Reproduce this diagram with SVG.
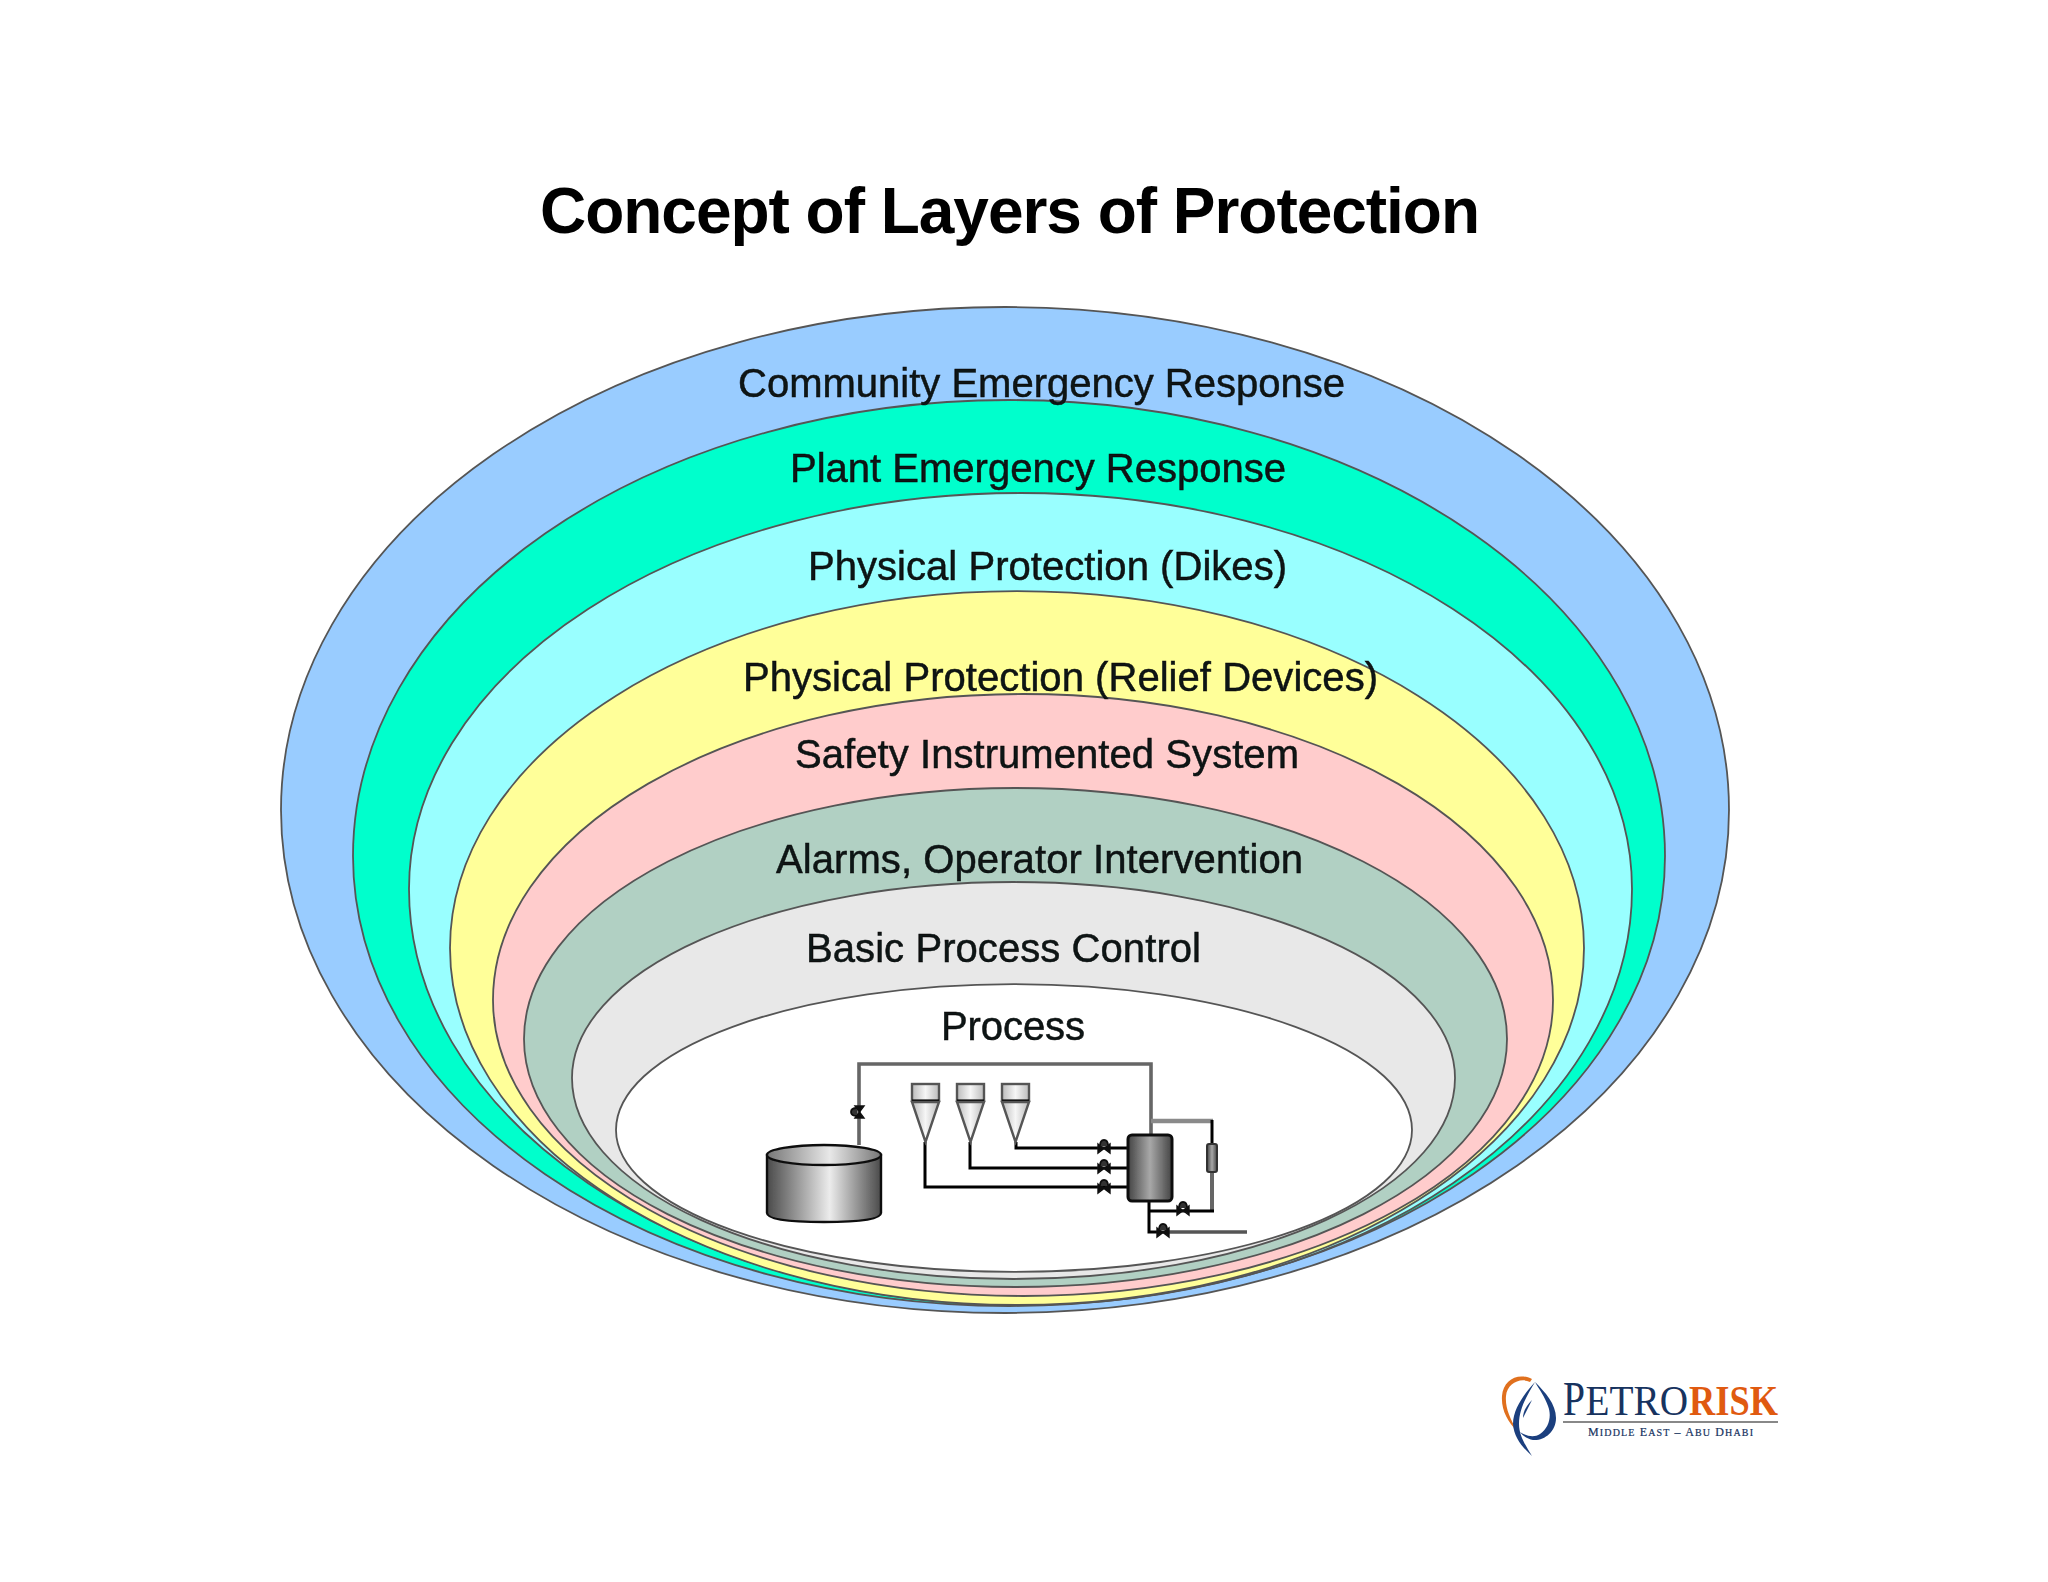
<svg xmlns="http://www.w3.org/2000/svg" width="2048" height="1582" viewBox="0 0 2048 1582">
<style>
.layer{stroke:#555;stroke-width:1.8}
.lbl{font-family:"Liberation Sans",Arial,sans-serif;font-size:40px;fill:#0d1212;stroke:#0d1212;stroke-width:.5}
.title{font-family:"Liberation Sans",Arial,sans-serif;font-weight:bold;font-size:64px;fill:#000}
.pipe{fill:none;stroke:#000;stroke-width:3}
.pipeg{fill:none;stroke:#666;stroke-width:3.6}
.eq{stroke:#111;stroke-width:2.4}
.lg{font-family:"Liberation Serif","Times New Roman",serif;fill:#17335f}
</style>
<defs>
<filter id="soft" x="0" y="0" width="2048" height="1582" filterUnits="userSpaceOnUse"><feGaussianBlur stdDeviation="0.7"/></filter>
<linearGradient id="metal"><stop offset="0" stop-color="#4a4a4a"/><stop offset=".55" stop-color="#ececec"/><stop offset="1" stop-color="#4a4a4a"/></linearGradient>
<linearGradient id="rim"><stop offset="0" stop-color="#777"/><stop offset=".55" stop-color="#e8e8e8"/><stop offset="1" stop-color="#777"/></linearGradient>
<linearGradient id="vess"><stop offset="0" stop-color="#444"/><stop offset=".5" stop-color="#a8a8a8"/><stop offset="1" stop-color="#444"/></linearGradient>
<linearGradient id="cone"><stop offset="0" stop-color="#bbb"/><stop offset=".5" stop-color="#f6f6f6"/><stop offset="1" stop-color="#bbb"/></linearGradient>
<symbol id="valve" overflow="visible"><path d="M-6,-3 L6,6 V-3 L-6,6 Z" fill="#111" stroke="#111" stroke-width="1.400"/><path d="M-4,-1 Q-4,-7 0,-7 Q4,-7 4,-1" fill="#333" stroke="#111" stroke-width="1.800"/></symbol>
</defs>
<rect width="2048" height="1582" fill="#fff"/>
<text class="title" x="540" y="233" textLength="940">Concept of Layers of Protection</text>
<g filter="url(#soft)">
<g id="layers">
<g id="layer-community"><path class="layer" fill="#99ccff" d="M281,810 A724,503 0 0 1 1729,810 A724,503 0 0 1 281,810 Z"/></g>
<g id="layer-plant"><path class="layer" fill="#00ffcc" d="M353,856 A656,456 0 0 1 1665,856 A656,450 0 0 1 353,856 Z"/></g>
<g id="layer-dikes"><path class="layer" fill="#99ffff" d="M409,889 A611.5,396 0 0 1 1632,889 A611.5,416 0 0 1 409,889 Z"/></g>
<g id="layer-relief"><path class="layer" fill="#ffff99" d="M450,948 A567,357 0 0 1 1584,948 A567,357 0 0 1 450,948 Z"/></g>
<g id="layer-sis"><path class="layer" fill="#ffcccc" d="M493,1000 A530,306 0 0 1 1553,1000 A530,296 0 0 1 493,1000 Z"/></g>
<g id="layer-alarms"><path class="layer" fill="#b1d0c3" d="M524,1039 A491.500,251 0 0 1 1507,1039 A491.500,248 0 0 1 524,1039 Z"/></g>
<g id="layer-bpc"><path class="layer" fill="#e8e8e8" d="M572,1078 A441.500,196 0 0 1 1455,1078 A441.500,201 0 0 1 572,1078 Z"/></g>
<g id="layer-process"><path class="layer" fill="#fff" d="M616,1130 A398,146 0 0 1 1412,1130 A398,142 0 0 1 616,1130 Z"/></g>
</g>
<g id="labels">
<text class="lbl" x="738" y="397" textLength="607">Community Emergency Response</text>
<text class="lbl" x="790" y="482" textLength="496">Plant Emergency Response</text>
<text class="lbl" x="808" y="580" textLength="479">Physical Protection (Dikes)</text>
<text class="lbl" x="743" y="691" textLength="635">Physical Protection (Relief Devices)</text>
<text class="lbl" x="795" y="768" textLength="504">Safety Instrumented System</text>
<text class="lbl" x="776" y="873" textLength="527">Alarms, Operator Intervention</text>
<text class="lbl" x="806" y="962" textLength="395">Basic Process Control</text>
<text class="lbl" x="941" y="1040" textLength="144">Process</text>
</g>
<g id="connectors">
<path class="pipeg" d="M859,1145 V1064 H1151 V1135"/>
<path d="M1151,1121 H1213" fill="none" stroke="#8a8a8a" stroke-width="4.500"/>
<path class="pipe" d="M1212,1120 V1145"/>
<path class="pipeg" d="M1212,1172 V1211" style="stroke-width:4"/>
<path class="pipe" d="M925,1142 V1187 H1127 M970,1142 V1168 H1127 M1016,1142 V1148 H1127"/>
<path class="pipe" d="M1149,1201 V1232 H1166 M1149,1211 H1214"/>
<path class="pipeg" d="M1166,1232 H1247" style="stroke:#555"/>
</g>
<g id="process-equipment">
<g id="tank">
<path class="eq" fill="url(#metal)" d="M767,1155 V1213 Q767,1222 824,1222 Q881,1222 881,1213 V1155 Z"/>
<ellipse class="eq" cx="824" cy="1155" rx="57" ry="10" fill="url(#rim)"/>
</g>
<g id="hopper-1"><rect class="eq" x="912" y="1084" width="27" height="17" fill="url(#cone)" style="stroke:#555"/><path d="M912,1101 H939" stroke="#000" stroke-width="3"/><path class="eq" d="M912,1102 H939 L925.500,1142 Z" fill="url(#cone)" style="stroke:#555"/></g>
<g id="hopper-2"><rect class="eq" x="957" y="1084" width="27" height="17" fill="url(#cone)" style="stroke:#555"/><path d="M957,1101 H984" stroke="#000" stroke-width="3"/><path class="eq" d="M957,1102 H984 L970.500,1142 Z" fill="url(#cone)" style="stroke:#555"/></g>
<g id="hopper-3"><rect class="eq" x="1002" y="1084" width="27" height="17" fill="url(#cone)" style="stroke:#555"/><path d="M1002,1101 H1029" stroke="#000" stroke-width="3"/><path class="eq" d="M1002,1102 H1029 L1015.500,1142 Z" fill="url(#cone)" style="stroke:#555"/></g>
<g id="vessel"><rect class="eq" x="1128" y="1135" width="44" height="66" rx="4" fill="url(#vess)" style="stroke-width:3"/></g>
<g id="filter"><rect x="1207" y="1144" width="10" height="28" rx="2" fill="url(#vess)" stroke="#333" stroke-width="2"/></g>
<use href="#valve" x="1104" y="1147"/><use href="#valve" x="1104" y="1167"/><use href="#valve" x="1104" y="1187"/>
<use href="#valve" x="1183" y="1209"/><use href="#valve" x="1163" y="1231"/>
<use href="#valve" transform="translate(858,1112) rotate(-90)"/>
</g>
</g>
<g id="logo">
<path fill="#e0701e" d="M1532,1379 C1518,1372 1503,1380 1502,1396 C1501,1410 1508,1422 1517,1431 C1510,1418 1505,1408 1506,1396 C1507,1384 1520,1377 1530,1382 Z"/>
<path fill="#1b3f7e" d="M1535,1382 C1545,1392 1556,1404 1556,1418 C1556,1432 1544,1441 1533,1440 C1528,1439 1523,1436 1520,1432 C1526,1436 1534,1438 1540,1434 C1549,1428 1552,1416 1548,1406 C1545,1397 1539,1389 1535,1382 Z"/>
<path fill="#1b3f7e" d="M1535,1382 C1526,1392 1513,1408 1513,1424 C1514,1438 1523,1448 1532,1456 C1526,1446 1519,1436 1519,1424 C1519,1408 1528,1394 1535,1382 Z"/>
<path fill="#1b3f7e" d="M1532,1400 C1526,1406 1523,1412 1523,1418 C1526,1412 1529,1406 1532,1400 Z"/>
<text class="lg" x="1563" y="1415" font-size="48" textLength="22" lengthAdjust="spacingAndGlyphs">P</text>
<text class="lg" x="1585.500" y="1415" font-size="42" textLength="102.500" lengthAdjust="spacingAndGlyphs">ETRO</text>
<text class="lg" x="1689" y="1415" font-size="42" font-weight="bold" style="fill:#e05a10" textLength="89" lengthAdjust="spacingAndGlyphs">RISK</text>
<path d="M1563,1422 H1778" stroke="#888" stroke-width="2" fill="none"/>
<text class="lg" x="1588" y="1436" font-size="12" textLength="165" stroke="#17335f" stroke-width=".2">M<tspan font-size="10">IDDLE</tspan> E<tspan font-size="10">AST</tspan> – A<tspan font-size="10">BU</tspan> D<tspan font-size="10">HABI</tspan></text>
</g>
</svg>
